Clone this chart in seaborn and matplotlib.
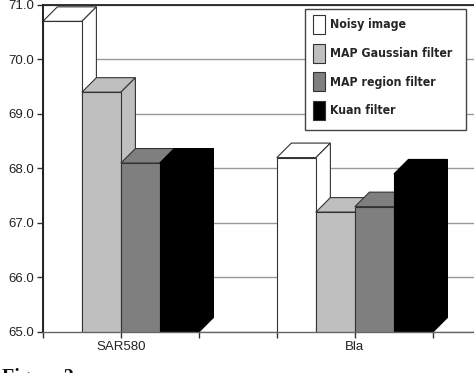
import matplotlib
matplotlib.use('Agg')
import matplotlib.pyplot as plt
from matplotlib.patches import Polygon, Rectangle
import pandas as pd
import seaborn as sns

groups = ['SAR580', 'Bla']
filters = ['Noisy image', 'MAP Gaussian filter', 'MAP region filter', 'Kuan filter']
noisy = [70.7, 68.2]
gaussian = [69.4, 67.2]
region = [68.1, 67.3]
kuan = [68.1, 67.9]
colors = ['#ffffff', '#bfbfbf', '#7f7f7f', '#000000']
y_ticks = [65, 66, 67, 68, 69, 70, 71]

df = pd.DataFrame({'group': groups * 4,
                   'filter': [f for f in filters for _ in groups],
                   'value': noisy + gaussian + region + kuan})

W, H = 474, 373
sns.set_style('white')
plt.rcParams['font.family'] = ['Liberation Sans Narrow', 'Liberation Sans', 'DejaVu Sans']

fig = plt.figure(figsize=(W / 100, H / 100), dpi=100)
ax = fig.add_axes([43 / W, 1 - 332 / H, (W - 43) / W, 327 / H])

sns.barplot(data=df, x='group', y='value', hue='filter', order=groups, hue_order=filters,
            palette=colors, width=0.667, gap=0, saturation=1, legend=False,
            edgecolor='#333333', linewidth=0.8, zorder=3, ax=ax)

ax.set_xlim(-0.333, 1.509)
ax.set_ylim(65, 71)

# depth of the fake 3d boxes, same in both directions
dx = 14.5 / 234
dy = 14.5 / 54.5

bars = [b for b in ax.patches if b.get_height() > 0]
bars = sorted(bars, key=lambda b: b.get_x())
for i, b in enumerate(bars):
    x0 = b.get_x()
    x1 = x0 + b.get_width()
    top = b.get_height()
    c = matplotlib.colors.to_hex(b.get_facecolor())
    ec = '#000000' if c == '#000000' else '#333333'
    b.set_edgecolor(ec)
    b.set_zorder(3 + i * 0.1 + 0.05)
    z = 3 + i * 0.1
    ax.add_patch(Polygon([(x0, top), (x0 + dx, top + dy), (x1 + dx, top + dy), (x1, top)],
                         facecolor=c, edgecolor=ec, lw=0.8, zorder=z))
    ax.add_patch(Polygon([(x1, 65), (x1, top), (x1 + dx, top + dy), (x1 + dx, 65 + dy)],
                         facecolor=c, edgecolor=ec, lw=0.8, zorder=z))

ax.set_yticks(y_ticks)
ax.set_yticklabels([f'{v:.1f}' for v in y_ticks], fontsize=9.5, color='#222222')
ax.set_xticks([-0.333, 0, 0.333, 0.667, 1, 1.333])
ax.set_xticklabels(['', groups[0], '', '', groups[1], ''], fontsize=9.5, color='#222222')
ax.set_xlabel('')
ax.set_ylabel('')
ax.tick_params(axis='y', length=4.3, width=1, color='#333333', left=True, pad=2.2)
ax.tick_params(axis='x', length=4.3, width=1, color='#333333', bottom=True, pad=2)
ax.grid(axis='y', color='#999999', lw=1)
ax.set_axisbelow(True)
ax.spines['right'].set_visible(False)
ax.spines['top'].set_color('#222222')
ax.spines['top'].set_linewidth(1.3)
ax.spines['left'].set_color('#222222')
ax.spines['left'].set_linewidth(1.4)
ax.spines['bottom'].set_color('#666666')
ax.spines['bottom'].set_linewidth(1.0)
for s in ax.spines.values():
    s.set_zorder(6)

# legend box is drawn by hand, it has more room under the last row than above the first
fig.add_artist(Rectangle((304.5 / W, 1 - 129.5 / H), 161.5 / W, 120.5 / H, transform=fig.transFigure,
                         facecolor='white', edgecolor='#444444', lw=1, zorder=5))
handles = [Rectangle((0, 0), 1, 1, facecolor=c, edgecolor='#333333', lw=0.8) for c in colors]
leg = fig.legend(handles, filters, loc='upper left', bbox_to_anchor=(313 / W, 1 - 15 / H),
                 frameon=False, handlelength=1.0, handleheight=2.0, labelspacing=0.8,
                 borderpad=0, borderaxespad=0, handletextpad=0.35,
                 prop={'family': 'DejaVu Sans', 'stretch': 'condensed', 'weight': 'bold', 'size': 8.8})
leg.set_zorder(10)

# caption is cut by the bottom of the picture in the reference too
fig.text(2 / W, 1 - 383 / H, 'Figure 2.', family='Liberation Serif', weight='bold', fontsize=14.5,
         color='#111111', va='baseline')

fig.savefig('out.png', dpi=100)
